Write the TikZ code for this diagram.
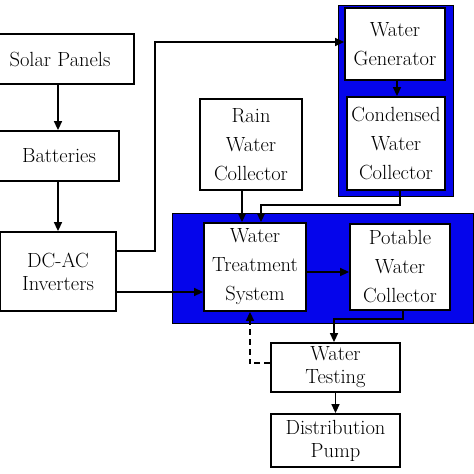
\documentclass[tikz,border=0pt]{standalone}
\usepackage{tikz}
\usetikzlibrary{arrows.meta}
\definecolor{panelblue}{RGB}{5,5,235}

\begin{document}
\begin{tikzpicture}[x=1pt,y=-1pt,
		box/.style={draw,line width=1.8pt,fill=white,inner sep=0pt,align=center,
			font=\fontsize{20.5}{29}\selectfont},
		tight/.style={font=\fontsize{20.5}{23}\selectfont},
		panel/.style={fill=panelblue,draw=black,line width=1pt},
		arr/.style={line width=1.5pt,-{Triangle[length=9pt,width=8pt]}}]
		\useasboundingbox [fill=white] (0,0) rectangle (474,474);
		
		\draw [panel] (338,5) rectangle (453,196);
		\draw [panel] (172,213) rectangle (473,323);
		
		\node (solar) at (60,59) [box,minimum width=148pt,minimum height=50pt] {Solar Panels};
		\node (batt) at (59,156) [box,minimum width=120pt,minimum height=50pt] {Batteries};
		\node (inv) at (58,271.5) [box,tight,minimum width=116pt,minimum height=79pt] {DC-AC\\Inverters};
		\node (rain) at (251,144.5) [box,minimum width=102pt,minimum height=91pt] {Rain\\Water\\Collector};
		\node (gen) at (395,44) [box,minimum width=100pt,minimum height=72pt] {Water\\Generator};
		\node (cond) at (396,143.5) [box,minimum width=98pt,minimum height=93pt] {Condensed\\Water\\Collector};
		\node (wts) at (255,267) [box,minimum width=102pt,minimum height=88pt] {Water\\Treatment\\System};
		\node (pwc) at (400,267) [box,minimum width=100pt,minimum height=86pt] {Potable\\Water\\Collector};
		\node (test) at (335.5,367.5) [box,tight,minimum width=129pt,minimum height=49pt] {Water\\Testing};
		\node (pump) at (335.5,440.5) [box,tight,minimum width=129pt,minimum height=53pt] {Distribution\\Pump};
		
		\draw [arr] ([xshift=-2pt]solar.south) -- ([xshift=-2pt]solar.south |- batt.north);
		\draw [arr] ([xshift=-1pt]batt.south) -- ([xshift=-1pt]batt.south |- inv.north);
		\draw [arr] ([yshift=20.5pt]inv.east) -- ++(38,0) |- ([yshift=2pt]gen.west);
		\draw [arr] ([yshift=-20.5pt]inv.east) -- ([yshift=-20.5pt]inv.east -| wts.west);
		\draw [arr] ([xshift=-9pt]rain.south) -- ([xshift=-9pt]rain.south |- wts.north);
		\draw [arr] ([xshift=2pt]gen.south) -- ([xshift=2pt]gen.south |- cond.north);
		\draw [arr] ([xshift=4pt]cond.south) -- ++(0,14) -| ([xshift=6pt]wts.north);
		\draw [arr] ([yshift=-5pt]wts.east) -- ([yshift=-5pt]wts.east -| pwc.west);
		\draw [arr] ([xshift=3pt]pwc.south) -- ++(0,8) -| ([xshift=-1.5pt]test.north);
		\draw [arr] (test.south) -- (pump.north);
		\draw [arr,dash pattern=on 6pt off 4pt] ([yshift=4.5pt]test.west) -- ++(-21,0) -| ([xshift=-5pt]wts.south);
	\end{tikzpicture}
\end{document}
